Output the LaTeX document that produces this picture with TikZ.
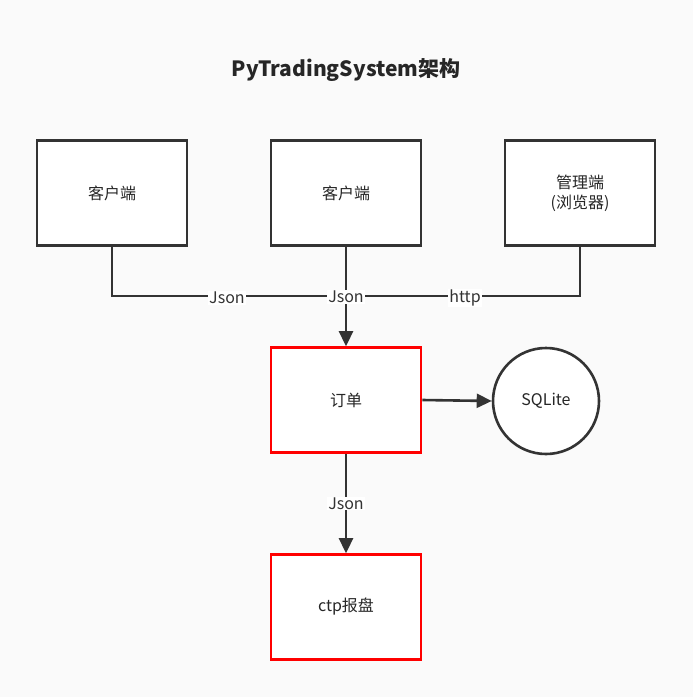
\documentclass[tikz,border=0pt]{standalone}
\usepackage{fontspec}
\setmainfont{Noto Sans CJK SC}
\usetikzlibrary{arrows.meta}
\begin{document}
\begin{tikzpicture}[x=1pt,y=-1pt,
 box/.style={draw=black!80,line width=2.6pt,minimum width=150pt,minimum height=105pt,fill=white,font=\fontsize{16}{20}\selectfont,text=black!85,align=center},
 red/.style={box,draw=red},
 ln/.style={draw=black!80,line width=2.6pt},
 arr/.style={ln,-{Triangle[length=15pt,width=14pt]}},
 lab/.style={fill=white,inner sep=1pt,font=\fontsize{16}{18}\selectfont,text=black!80}]
\fill[fill=black!2] (0,0) rectangle (693,697);
\useasboundingbox (0,0) rectangle (693,697);
\node[font=\fontsize{21}{25}\selectfont\bfseries,text=black!85] (t) at (346,70) {PyTradingSystem架构};
\node[box] (c1) at (112,193) {客户端};
\node[box] (c2) at (346,193) {客户端};
\node[box] (c3) at (580,193) {管理端\\(浏览器)};
\node[red] (o) at (346,400) {订单};
\node[red] (ctp) at (346,607) {ctp报盘};
\node[circle,draw=black!80,line width=2.6pt,fill=white,minimum size=106pt,font=\fontsize{16}{20}\selectfont,text=black!85] (db) at (546,401) {SQLite};
\coordinate (j) at (346,296);
\draw[ln] (c1.south) |- (j);
\draw[ln] (c3.south) |- (j);
\draw[arr] (c2.south) -- (o.north);
\draw[arr] (o.east) -- (db.west);
\draw[arr] (o.south) -- node[lab]{Json} (ctp.north);
\node[lab] (l1) at (227,298) {Json};
\node[lab] (l2) at (346,297) {Json};
\node[lab] (l3) at (465,298) {http};
\end{tikzpicture}
\end{document}
